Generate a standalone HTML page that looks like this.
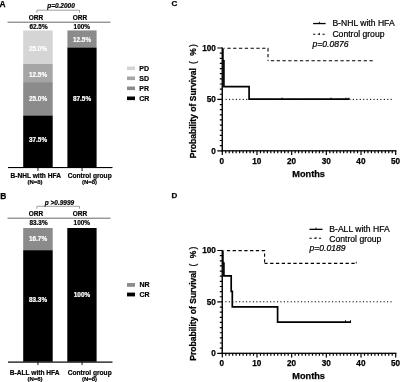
<!DOCTYPE html>
<html><head><meta charset="utf-8">
<style>
html,body{margin:0;padding:0;background:#fff;width:400px;height:382px;overflow:hidden}
svg{display:block;will-change:transform}
text{font-family:"Liberation Sans",sans-serif;stroke:#000;stroke-width:.2px}
.s,.s text{stroke-width:.25px}
.r{stroke-width:.22px}
.w text{stroke:#fff;stroke-width:.2px}
.b{font-weight:bold}
</style></head><body>
<svg width="400" height="382" viewBox="0 0 400 382">

<text x="-0.4" y="6.9" class="b s" font-size="8.4">A</text>
<text x="61" y="7.6" class="b" font-size="6.5" font-style="italic" text-anchor="middle">p=0.2000</text>
<path d="M36.9 12.8V10.2H79.5V12.8" fill="none" stroke="#777" stroke-width="0.7"/>
<text x="36" y="20.2" class="b" font-size="6.5" text-anchor="middle">ORR</text>
<text x="80" y="20.2" class="b" font-size="6.5" text-anchor="middle">ORR</text>
<rect x="7.5" y="21.6" width="103" height="1.3" fill="#8c8c8c"/>
<text x="38.5" y="29.2" class="b" font-size="6.4" text-anchor="middle">62.5%</text>
<text x="81.8" y="29.2" class="b" font-size="6.4" text-anchor="middle">100%</text>
<rect x="23.2" y="30.5" width="29.5" height="33.4" fill="#d5d5d5"/>
<rect x="23.2" y="63.9" width="29.5" height="18.2" fill="#a5a5a5"/>
<rect x="23.2" y="82.1" width="29.5" height="33.4" fill="#8b8b8b"/>
<rect x="23.2" y="115.5" width="29.5" height="51.8" fill="#000"/>
<rect x="67.4" y="30.4" width="29.2" height="17.1" fill="#8b8b8b"/>
<rect x="67.4" y="47.5" width="29.2" height="119.8" fill="#000"/>
<g class="b w" font-size="6.4" fill="#fff" text-anchor="middle">
<text x="38" y="51">25.0%</text>
<text x="38" y="76.6">12.5%</text>
<text x="38" y="101">25.0%</text>
<text x="38" y="142.2">37.5%</text>
<text x="82" y="42.2">12.5%</text>
<text x="82" y="101.2">87.5%</text>
</g>
<rect x="8" y="167" width="104.5" height="1.1" fill="#000"/>
<rect x="37.5" y="167" width="0.9" height="4" fill="#000"/>
<rect x="81.6" y="167" width="0.9" height="4" fill="#000"/>
<text x="35.7" y="177.6" class="b" font-size="6.6" text-anchor="middle">B-NHL with HFA</text>
<text x="35" y="184.4" class="b" font-size="6" text-anchor="middle">(N=8)</text>
<text x="89.7" y="177.6" class="b" font-size="6.6" text-anchor="middle">Control group</text>
<text x="89.5" y="184.4" class="b" font-size="6" text-anchor="middle">(N=8)</text>
<rect x="127" y="66.5" width="8" height="3.6" fill="#d5d5d5"/>
<rect x="127" y="76.5" width="8" height="3.6" fill="#a5a5a5"/>
<rect x="127" y="86.5" width="8" height="3.6" fill="#8b8b8b"/>
<rect x="127" y="96.5" width="8" height="3.6" fill="#000"/>
<g class="b" font-size="7">
<text x="139.3" y="70.6">PD</text>
<text x="139.3" y="80.6">SD</text>
<text x="139.3" y="90.6">PR</text>
<text x="139.3" y="100.7">CR</text>
</g>


<text x="0.2" y="198.8" class="b s" font-size="8.4">B</text>
<text x="59.5" y="204.8" class="b" font-size="6.5" font-style="italic" text-anchor="middle">p &gt;0.9999</text>
<path d="M36.9 208.8V206.3H79.5V208.8" fill="none" stroke="#777" stroke-width="0.7"/>
<text x="36" y="216.3" class="b" font-size="6.5" text-anchor="middle">ORR</text>
<text x="80" y="216.3" class="b" font-size="6.5" text-anchor="middle">ORR</text>
<rect x="7.5" y="217.6" width="103" height="1.3" fill="#8c8c8c"/>
<text x="38.5" y="225.2" class="b" font-size="6.4" text-anchor="middle">83.3%</text>
<text x="81.8" y="225.2" class="b" font-size="6.4" text-anchor="middle">100%</text>
<rect x="23.2" y="228" width="29.5" height="22.2" fill="#8b8b8b"/>
<rect x="23.2" y="250.2" width="29.5" height="111.5" fill="#000"/>
<rect x="67.3" y="228" width="29.3" height="133.7" fill="#000"/>
<g class="b w" font-size="6.4" fill="#fff" text-anchor="middle">
<text x="38" y="241.2">16.7%</text>
<text x="38" y="302.4">83.3%</text>
<text x="82" y="297.4">100%</text>
</g>
<rect x="8" y="361.5" width="104.5" height="1.2" fill="#000"/>
<rect x="37.5" y="361.5" width="0.9" height="3.5" fill="#000"/>
<rect x="81.6" y="361.5" width="0.9" height="3.5" fill="#000"/>
<text x="34.7" y="375" class="b" font-size="6.6" text-anchor="middle">B-ALL with HFA</text>
<text x="35" y="381.1" class="b" font-size="6" text-anchor="middle">(N=6)</text>
<text x="89.7" y="375" class="b" font-size="6.6" text-anchor="middle">Control group</text>
<text x="89.5" y="381.1" class="b" font-size="6" text-anchor="middle">(N=8)</text>
<rect x="127" y="283" width="8" height="3.8" fill="#8b8b8b"/>
<rect x="127" y="292.6" width="8" height="3.8" fill="#000"/>
<g class="b" font-size="7">
<text x="139.5" y="287.2">NR</text>
<text x="139.5" y="296.7">CR</text>
</g>

<text x="171.4" y="6.4" class="b s" font-size="8">C</text>
<rect x="221.55" y="47.4" width="1.4" height="104.1" fill="#000"/>
<rect x="221.5" y="150.15" width="174.95" height="1.3" fill="#000"/>
<path d="M217.3 150.8H222.25M219.8 145.66H222.25M219.8 140.52H222.25M219.8 135.38H222.25M219.8 130.24H222.25M219.8 125.1H222.25M219.8 119.96H222.25M219.8 114.82H222.25M219.8 109.68H222.25M219.8 104.54H222.25M217.3 99.4H222.25M219.8 94.26H222.25M219.8 89.12H222.25M219.8 83.98H222.25M219.8 78.84H222.25M219.8 73.7H222.25M219.8 68.56H222.25M219.8 63.42H222.25M219.8 58.28H222.25M219.8 53.14H222.25M217.3 48H222.25M222.3 150.8V155.1M225.77 150.8V153.2M229.24 150.8V153.2M232.7 150.8V153.2M236.17 150.8V153.2M239.64 150.8V153.2M243.11 150.8V153.2M246.58 150.8V153.2M250.04 150.8V153.2M253.51 150.8V153.2M256.98 150.8V155.1M260.45 150.8V153.2M263.92 150.8V153.2M267.38 150.8V153.2M270.85 150.8V153.2M274.32 150.8V153.2M277.79 150.8V153.2M281.26 150.8V153.2M284.72 150.8V153.2M288.19 150.8V153.2M291.66 150.8V155.1M295.13 150.8V153.2M298.6 150.8V153.2M302.06 150.8V153.2M305.53 150.8V153.2M309 150.8V153.2M312.47 150.8V153.2M315.94 150.8V153.2M319.4 150.8V153.2M322.87 150.8V153.2M326.34 150.8V155.1M329.81 150.8V153.2M333.28 150.8V153.2M336.74 150.8V153.2M340.21 150.8V153.2M343.68 150.8V153.2M347.15 150.8V153.2M350.62 150.8V153.2M354.08 150.8V153.2M357.55 150.8V153.2M361.02 150.8V155.1M364.49 150.8V153.2M367.96 150.8V153.2M371.42 150.8V153.2M374.89 150.8V153.2M378.36 150.8V153.2M381.83 150.8V153.2M385.3 150.8V153.2M388.76 150.8V153.2M392.23 150.8V153.2M395.7 150.8V155.1" stroke="#000" stroke-width="1.2" fill="none"/>
<g class="b s" font-size="8.2" text-anchor="end"><text x="215.8" y="50.9">100</text><text x="215.8" y="102.3">50</text><text x="215.8" y="153.7">0</text></g>
<g class="b s" font-size="8.2" text-anchor="middle"><text x="221.9" y="163.8">0</text><text x="256.88" y="163.8">10</text><text x="291.56" y="163.8">20</text><text x="326.24" y="163.8">30</text><text x="360.92" y="163.8">40</text><text x="395.6" y="163.8">50</text></g>
<text x="308.6" y="176.6" class="b s" font-size="9.2" text-anchor="middle">Months</text>
<g transform="translate(195.8 158.3) rotate(-90)" font-size="8.55"><text class="b s">Probability of Survival</text><text x="94.4" class="r">(</text><text x="102.5" class="b s">%</text><text x="111.4" class="r">)</text></g>

<path d="M224.25 48.3H268V60.8" fill="none" stroke="#000" stroke-width="1.1" stroke-dasharray="3.3 2.5" stroke-dashoffset="2.7"/>
<path d="M268 60.8H373" fill="none" stroke="#000" stroke-width="1.1" stroke-dasharray="3.3 2.5" stroke-dashoffset="2.95"/>
<path d="M225.5 99.4H393" fill="none" stroke="#000" stroke-width="1" stroke-dasharray="1.2 2.24"/>
<path d="M222.9 48.2V60.8H223.9V86.6H249.1V99.2H349.2" fill="none" stroke="#000" stroke-width="1.7"/>
<path d="M282 99.4V97.6M331 99.4V97.6M346 99.4V97.6M349 99.4V97.6" stroke="#000" stroke-width="0.9"/>
<rect x="313.1" y="22.9" width="12.5" height="1.3" fill="#000"/>
<rect x="318.9" y="21.8" width="0.9" height="1.6" fill="#000"/>
<text x="332.4" y="26.3" font-size="8.6" class="r">B-NHL with HFA</text>
<path d="M313.1 34.2H325.6" stroke="#000" stroke-width="1.1" stroke-dasharray="2.2 2.5"/>
<rect x="318.9" y="32.9" width="0.8" height="1.4" fill="#000"/>
<text x="332.4" y="37" font-size="8.6" class="r">Control group</text>
<text x="312.5" y="46.6" font-size="8.6" font-style="italic" class="r">p=0.0876</text>

<text x="171.4" y="198" class="b s" font-size="8">D</text>
<rect x="221.55" y="249.9" width="1.4" height="104.1" fill="#000"/>
<rect x="221.5" y="352.65" width="174.95" height="1.3" fill="#000"/>
<path d="M217.3 353.3H222.25M219.8 348.16H222.25M219.8 343.02H222.25M219.8 337.88H222.25M219.8 332.74H222.25M219.8 327.6H222.25M219.8 322.46H222.25M219.8 317.32H222.25M219.8 312.18H222.25M219.8 307.04H222.25M217.3 301.9H222.25M219.8 296.76H222.25M219.8 291.62H222.25M219.8 286.48H222.25M219.8 281.34H222.25M219.8 276.2H222.25M219.8 271.06H222.25M219.8 265.92H222.25M219.8 260.78H222.25M219.8 255.64H222.25M217.3 250.5H222.25M222.3 353.3V357.6M225.77 353.3V355.7M229.24 353.3V355.7M232.7 353.3V355.7M236.17 353.3V355.7M239.64 353.3V355.7M243.11 353.3V355.7M246.58 353.3V355.7M250.04 353.3V355.7M253.51 353.3V355.7M256.98 353.3V357.6M260.45 353.3V355.7M263.92 353.3V355.7M267.38 353.3V355.7M270.85 353.3V355.7M274.32 353.3V355.7M277.79 353.3V355.7M281.26 353.3V355.7M284.72 353.3V355.7M288.19 353.3V355.7M291.66 353.3V357.6M295.13 353.3V355.7M298.6 353.3V355.7M302.06 353.3V355.7M305.53 353.3V355.7M309 353.3V355.7M312.47 353.3V355.7M315.94 353.3V355.7M319.4 353.3V355.7M322.87 353.3V355.7M326.34 353.3V357.6M329.81 353.3V355.7M333.28 353.3V355.7M336.74 353.3V355.7M340.21 353.3V355.7M343.68 353.3V355.7M347.15 353.3V355.7M350.62 353.3V355.7M354.08 353.3V355.7M357.55 353.3V355.7M361.02 353.3V357.6M364.49 353.3V355.7M367.96 353.3V355.7M371.42 353.3V355.7M374.89 353.3V355.7M378.36 353.3V355.7M381.83 353.3V355.7M385.3 353.3V355.7M388.76 353.3V355.7M392.23 353.3V355.7M395.7 353.3V357.6" stroke="#000" stroke-width="1.2" fill="none"/>
<g class="b s" font-size="8.2" text-anchor="end"><text x="215.8" y="253.4">100</text><text x="215.8" y="304.8">50</text><text x="215.8" y="356.2">0</text></g>
<g class="b s" font-size="8.2" text-anchor="middle"><text x="221.9" y="366.3">0</text><text x="256.88" y="366.3">10</text><text x="291.56" y="366.3">20</text><text x="326.24" y="366.3">30</text><text x="360.92" y="366.3">40</text><text x="395.6" y="366.3">50</text></g>
<text x="308.6" y="379.1" class="b s" font-size="9.2" text-anchor="middle">Months</text>
<g transform="translate(195.8 360.8) rotate(-90)" font-size="8.55"><text class="b s">Probability of Survival</text><text x="94.4" class="r">(</text><text x="102.5" class="b s">%</text><text x="111.4" class="r">)</text></g>

<path d="M224.25 250.6H264.6V263.4" fill="none" stroke="#000" stroke-width="1.1" stroke-dasharray="3.3 2.5" stroke-dashoffset="3.2"/>
<path d="M264.6 263.4H356.6" fill="none" stroke="#000" stroke-width="1.1" stroke-dasharray="3.3 2.5" stroke-dashoffset="0.25"/>
<path d="M225.3 301.8H393" fill="none" stroke="#000" stroke-width="1" stroke-dasharray="1.2 2.24"/>
<path d="M222.9 250.5V263H223.9V275.9H231.2V291.4H232.3V306.8H277.6V322.1H351" fill="none" stroke="#000" stroke-width="1.7"/>
<path d="M345.5 322.2V320.2M350.5 322.2V320.2M356.3 263.4V261.8" stroke="#000" stroke-width="0.9"/>
<rect x="309.5" y="228.7" width="13" height="1.3" fill="#000"/>
<rect x="315.6" y="227.6" width="0.9" height="1.6" fill="#000"/>
<text x="329.3" y="232.1" font-size="8.6" class="r">B-ALL with HFA</text>
<path d="M309.5 238.2H322.5" stroke="#000" stroke-width="1.1" stroke-dasharray="2.2 2.5"/>
<rect x="315.6" y="236.9" width="0.8" height="1.4" fill="#000"/>
<text x="329.3" y="241.6" font-size="8.6" class="r">Control group</text>
<text x="309.5" y="251" font-size="8.6" font-style="italic" class="r">p=0.0189</text>

</svg>
</body></html>
